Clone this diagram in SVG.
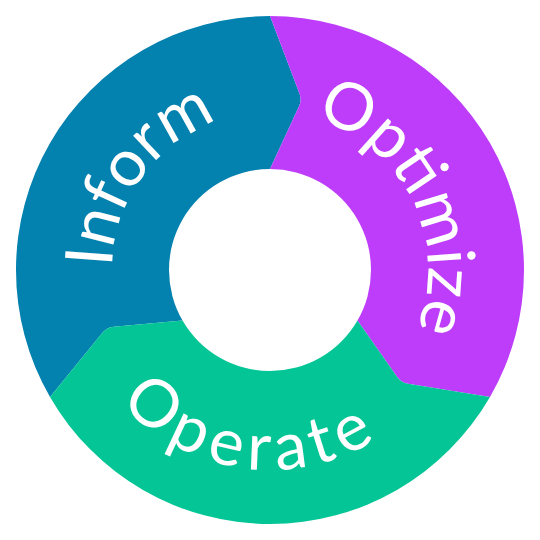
<svg xmlns="http://www.w3.org/2000/svg" xmlns:xlink="http://www.w3.org/1999/xlink" width="540" height="540" viewBox="0 0 540 540">
  <style>
    .label { font-family: Lato, "Open Sans", "Liberation Sans", sans-serif; font-size: 66px; fill: #ffffff; }
  </style>
  <defs>
    <path id="seg" d="M 50.03 397 A 254 254 0 0 1 270 16 L 299.5 93.46 Q 302 100 299.06 106.35 L 270 169 A 101 101 0 0 0 182.53 320.5 L 113.77 326.67 Q 106.8 327.3 102.38 332.73 Z"/>
    <path id="cw" d="M 270 428 A 158 158 0 1 1 270 112 A 158 158 0 1 1 270 428"/>
    <path id="ccw" d="M 270 70 A 200 200 0 1 0 270 470 A 200 200 0 1 0 270 70"/>
  </defs>
  <rect width="540" height="540" fill="#ffffff"/>
  <g id="connectors"></g>
  <g id="inform">
    <use xlink:href="#seg" fill="#0381AF"/>
    <text class="label" text-anchor="middle"><textPath xlink:href="#cw" startOffset="347">Inform</textPath></text>
  </g>
  <g id="optimize">
    <use xlink:href="#seg" fill="#BD3DFB" transform="rotate(120 270 270)"/>
    <text class="label" text-anchor="middle"><textPath xlink:href="#cw" startOffset="673">Optimize</textPath></text>
  </g>
  <g id="operate">
    <use xlink:href="#seg" fill="#03C595" transform="rotate(240 270 270)"/>
    <text class="label" text-anchor="middle" letter-spacing="7"><textPath xlink:href="#ccw" startOffset="603">Operate</textPath></text>
  </g>
</svg>
